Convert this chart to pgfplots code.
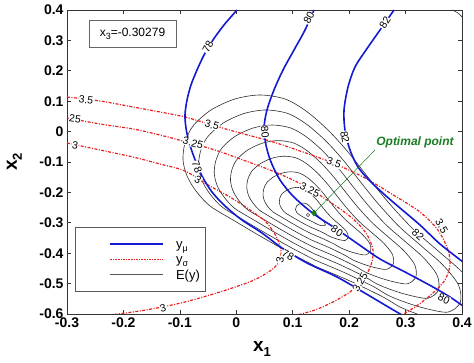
\documentclass[border=0pt]{standalone}
\usepackage{fontspec}
\setmainfont{Liberation Sans}
\usepackage{pgfplots}
\pgfplotsset{compat=1.18}
\definecolor{myblue}{RGB}{20,25,210}
\definecolor{myred}{RGB}{235,30,30}
\definecolor{mygray}{RGB}{45,45,45}
\definecolor{mygreen}{RGB}{25,125,35}
\tikzset{
 bl/.style={myblue, line width=1.6pt},
 rd/.style={myred, line width=1.2pt, dash pattern=on 3pt off 1.5pt on 1pt off 1.5pt},
 bk/.style={mygray, line width=0.6pt},
 clab/.style={font=\fontsize{10.5}{11}\selectfont, fill=white, inner sep=0.4pt},
}
\newcommand{\lstrut}{\rule[-4pt]{0pt}{14pt}}
\begin{document}
\begin{tikzpicture}
\useasboundingbox (-67pt,-49pt) rectangle (407pt,314pt);
\begin{axis}[
 at={(0pt,0pt)}, anchor=south west,
 scale only axis, width=395pt, height=304pt,
 xmin=-0.3, xmax=0.4, ymin=-0.6, ymax=0.4,
 xtick={-0.3,-0.2,-0.1,0,0.1,0.2,0.3,0.4},
 xticklabels={-0.3,-0.2,-0.1,0,0.1,0.2,0.3,0.4},
 ytick={-0.6,-0.5,-0.4,-0.3,-0.2,-0.1,0,0.1,0.2,0.3,0.4},
 yticklabels={-0.6,-0.5,-0.4,-0.3,-0.2,-0.1,0,0.1,0.2,0.3,0.4},
 tick align=inside, major tick length=4pt,
 tick style={black!80, line width=0.6pt},
 axis line style={black!80, line width=0.8pt},
 ticklabel style={font=\fontsize{14}{16}\selectfont\bfseries},
 xlabel={\fontsize{19}{20}\selectfont\bfseries x\raisebox{-5pt}{\fontsize{13}{14}\selectfont 1}},
 ylabel={\fontsize{19}{20}\selectfont\bfseries x\raisebox{-5pt}{\fontsize{13}{14}\selectfont 2}},
 every axis x label/.style={at={(axis description cs:0.4937,-0.125)}, anchor=base},
 every axis y label/.style={at={(axis description cs:-0.1266,0.5)}, anchor=base, rotate=90},
 legend style={at={(0.0203,0.0724)}, anchor=south west, draw=black!65, line width=0.8pt, fill=white,
   font=\fontsize{13}{15}\selectfont, inner xsep=4pt, inner ysep=9pt, column sep=10pt},
 legend cell align=left,
 legend image code/.code={\path (-30pt,0pt); \draw[#1] (0pt,0pt) -- (53pt,0pt);},
]
% ---------- E(y) contours ----------
\addplot[bk, smooth, forget plot] coordinates {(0.1430,-0.4454)(0.0952,-0.3993)(0.0420,-0.3434)(-0.0058,-0.2907)(-0.0466,-0.2447)(-0.0714,-0.1954)(-0.0873,-0.1460)(-0.0944,-0.0934)(-0.0909,-0.0375)(-0.0767,0.0185)(-0.0448,0.0711)(-0.0023,0.1073)(0.0420,0.1204)(0.0863,0.1073)(0.1236,0.0678)(0.1625,0.0053)(0.1980,-0.0671)(0.2317,-0.1460)(0.2689,-0.2315)(0.3114,-0.3171)(0.3557,-0.3894)(0.4000,-0.4618)(0.4319,-0.5375)(0.4354,-0.6033)(0.4106,-0.6394)(0.3663,-0.6263)(0.3256,-0.6033)(0.2901,-0.5769)(0.2600,-0.5440)(0.2015,-0.4914)(0.1430,-0.4454)};
\addplot[bk, smooth, forget plot] coordinates {(0.1410,-0.4240)(0.0992,-0.3837)(0.0526,-0.3348)(0.0108,-0.2887)(-0.0249,-0.2484)(-0.0466,-0.2053)(-0.0605,-0.1620)(-0.0667,-0.1160)(-0.0637,-0.0671)(-0.0512,-0.0181)(-0.0233,0.0279)(0.0139,0.0596)(0.0526,0.0711)(0.0914,0.0596)(0.1240,0.0250)(0.1581,-0.0296)(0.1891,-0.0930)(0.2186,-0.1620)(0.2512,-0.2368)(0.2884,-0.3118)(0.3271,-0.3750)(0.3659,-0.4384)(0.3938,-0.5046)(0.3969,-0.5622)(0.3752,-0.5938)(0.3364,-0.5823)(0.3008,-0.5622)(0.2697,-0.5391)(0.2434,-0.5103)(0.1922,-0.4643)(0.1410,-0.4240)};
\addplot[bk, smooth, forget plot] coordinates {(0.1390,-0.4026)(0.1032,-0.3681)(0.0633,-0.3261)(0.0274,-0.2866)(-0.0032,-0.2521)(-0.0218,-0.2151)(-0.0337,-0.1781)(-0.0390,-0.1386)(-0.0364,-0.0967)(-0.0258,-0.0547)(-0.0018,-0.0152)(0.0300,0.0119)(0.0633,0.0217)(0.0965,0.0119)(0.1245,-0.0177)(0.1537,-0.0646)(0.1803,-0.1189)(0.2056,-0.1781)(0.2335,-0.2422)(0.2653,-0.3064)(0.2986,-0.3606)(0.3318,-0.4149)(0.3557,-0.4717)(0.3583,-0.5211)(0.3397,-0.5481)(0.3065,-0.5383)(0.2760,-0.5211)(0.2494,-0.5013)(0.2268,-0.4766)(0.1829,-0.4371)(0.1390,-0.4026)};
\addplot[bk, smooth, forget plot] coordinates {(0.1370,-0.3804)(0.1073,-0.3518)(0.0743,-0.3171)(0.0447,-0.2845)(0.0194,-0.2559)(0.0040,-0.2254)(-0.0058,-0.1948)(-0.0102,-0.1621)(-0.0081,-0.1275)(0.0007,-0.0928)(0.0205,-0.0602)(0.0469,-0.0377)(0.0743,-0.0296)(0.1018,-0.0377)(0.1249,-0.0622)(0.1490,-0.1009)(0.1711,-0.1458)(0.1920,-0.1948)(0.2150,-0.2478)(0.2414,-0.3008)(0.2688,-0.3457)(0.2963,-0.3906)(0.3161,-0.4375)(0.3182,-0.4783)(0.3029,-0.5007)(0.2754,-0.4925)(0.2502,-0.4783)(0.2282,-0.4619)(0.2095,-0.4415)(0.1732,-0.4089)(0.1370,-0.3804)};
\addplot[bk, smooth, forget plot] coordinates {(0.1349,-0.3581)(0.1115,-0.3356)(0.0854,-0.3082)(0.0620,-0.2823)(0.0420,-0.2598)(0.0298,-0.2356)(0.0220,-0.2114)(0.0186,-0.1857)(0.0203,-0.1583)(0.0272,-0.1308)(0.0429,-0.1051)(0.0637,-0.0873)(0.0854,-0.0809)(0.1071,-0.0873)(0.1254,-0.1067)(0.1444,-0.1373)(0.1618,-0.1728)(0.1784,-0.2114)(0.1966,-0.2533)(0.2174,-0.2953)(0.2391,-0.3307)(0.2608,-0.3662)(0.2765,-0.4033)(0.2782,-0.4355)(0.2660,-0.4532)(0.2443,-0.4468)(0.2244,-0.4355)(0.2070,-0.4226)(0.1922,-0.4065)(0.1636,-0.3807)(0.1349,-0.3581)};
\addplot[bk, smooth, forget plot] coordinates {(0.1328,-0.3359)(0.1156,-0.3193)(0.0965,-0.2992)(0.0793,-0.2802)(0.0646,-0.2636)(0.0556,-0.2459)(0.0499,-0.2281)(0.0474,-0.2092)(0.0486,-0.1891)(0.0537,-0.1689)(0.0652,-0.1500)(0.0805,-0.1369)(0.0965,-0.1322)(0.1124,-0.1369)(0.1258,-0.1511)(0.1398,-0.1736)(0.1526,-0.1997)(0.1648,-0.2281)(0.1781,-0.2589)(0.1934,-0.2897)(0.2094,-0.3157)(0.2253,-0.3418)(0.2368,-0.3691)(0.2381,-0.3927)(0.2292,-0.4057)(0.2132,-0.4010)(0.1986,-0.3927)(0.1858,-0.3832)(0.1749,-0.3714)(0.1539,-0.3525)(0.1328,-0.3359)};
\addplot[bk, smooth, forget plot] coordinates {(0.1308,-0.3137)(0.1198,-0.3031)(0.1075,-0.2902)(0.0965,-0.2781)(0.0871,-0.2675)(0.0814,-0.2562)(0.0778,-0.2448)(0.0762,-0.2327)(0.0770,-0.2198)(0.0802,-0.2070)(0.0876,-0.1949)(0.0973,-0.1865)(0.1075,-0.1835)(0.1177,-0.1865)(0.1263,-0.1956)(0.1352,-0.2100)(0.1434,-0.2266)(0.1512,-0.2448)(0.1597,-0.2645)(0.1695,-0.2841)(0.1797,-0.3008)(0.1899,-0.3174)(0.1972,-0.3348)(0.1980,-0.3500)(0.1923,-0.3583)(0.1821,-0.3553)(0.1728,-0.3500)(0.1646,-0.3439)(0.1577,-0.3363)(0.1442,-0.3242)(0.1308,-0.3137)};
\addplot[bk, smooth, forget plot] coordinates {(0.1239,-0.2868)(0.1138,-0.2759)(0.1072,-0.2664)(0.1049,-0.2562)(0.1067,-0.2450)(0.1142,-0.2361)(0.1230,-0.2361)(0.1306,-0.2463)(0.1376,-0.2615)(0.1455,-0.2786)(0.1544,-0.2931)(0.1579,-0.3072)(0.1510,-0.3095)(0.1434,-0.3046)(0.1345,-0.2960)(0.1239,-0.2868)};
\addplot[bk, smooth, forget plot] coordinates {(0.3823,0.4000)(0.3929,0.3901)(0.4018,0.3737)};
% ---------- y_sigma contours ----------
\addplot[rd, smooth, forget plot] coordinates {(-0.3,0.1138)(-0.2415,0.1007)(-0.1830,0.0809)(-0.1352,0.0645)(-0.0909,0.0480)(-0.0430,0.0217)(0.0066,-0.0046)(0.0597,-0.0309)(0.1129,-0.0638)(0.1714,-0.1033)(0.2281,-0.1526)(0.2812,-0.2118)(0.3255,-0.2645)(0.3574,-0.3237)(0.3752,-0.3895)(0.3787,-0.4388)(0.3699,-0.4882)(0.3486,-0.5309)(0.3220,-0.5704)(0.2937,-0.6033)};
\addplot[rd, smooth, forget plot] coordinates {(-0.3,0.0447)(-0.2415,0.0250)(-0.1830,0.0086)(-0.1352,-0.0112)(-0.0820,-0.0375)(-0.0377,-0.0605)(0.0119,-0.0934)(0.0597,-0.1263)(0.1005,-0.1592)(0.1306,-0.1888)(0.1714,-0.2382)(0.2050,-0.2842)(0.2299,-0.3336)(0.2423,-0.3895)(0.2387,-0.4388)(0.2245,-0.4882)(0.2015,-0.5276)(0.1714,-0.5605)(0.1395,-0.5869)(0.1076,-0.6033)};
\addplot[rd, smooth, forget plot] coordinates {(-0.3,-0.0375)(-0.2415,-0.0605)(-0.1830,-0.0836)(-0.1352,-0.1066)(-0.0909,-0.1296)(-0.0501,-0.1757)(-0.0112,-0.2151)(0.0243,-0.2579)(0.0526,-0.2974)(0.0704,-0.3434)(0.0792,-0.3895)(0.0757,-0.4289)(0.0597,-0.4586)(0.0278,-0.4914)(-0.0289,-0.5276)(-0.0909,-0.5605)(-0.1405,-0.5803)(-0.1830,-0.5934)(-0.2238,-0.6033)};
% ---------- y_mu contours ----------
\addplot[bl, smooth, forget plot] coordinates {(0.0013,0.4)(-0.0218,0.3507)(-0.0413,0.3013)(-0.0572,0.2520)(-0.0696,0.2026)(-0.0803,0.1533)(-0.0873,0.1039)(-0.0909,0.0546)(-0.0891,0.0118)(-0.0838,-0.0342)(-0.0749,-0.0836)(-0.0608,-0.1461)(-0.0430,-0.1987)(-0.0200,-0.2447)(0.0101,-0.2908)(0.0456,-0.3336)(0.0810,-0.3829)(0.1253,-0.4322)(0.1785,-0.4783)(0.2245,-0.5276)(0.2724,-0.5803)(0.2937,-0.6033)};
\addplot[bl, smooth, forget plot] coordinates {(0.1377,0.4)(0.1218,0.3342)(0.1023,0.2684)(0.0828,0.2026)(0.0668,0.1368)(0.0544,0.0711)(0.0491,0.0118)(0.0526,-0.0441)(0.0615,-0.1000)(0.0775,-0.1592)(0.0987,-0.2086)(0.1218,-0.2480)(0.1448,-0.2809)(0.1749,-0.3171)(0.2157,-0.3697)(0.2547,-0.4191)(0.2990,-0.4618)(0.3486,-0.5112)(0.3787,-0.5441)(0.4018,-0.5737)};
\addplot[bl, smooth, forget plot] coordinates {(0.2795,0.4)(0.2547,0.3342)(0.2299,0.2684)(0.2104,0.2125)(0.1980,0.1467)(0.1909,0.0711)(0.1926,0.0053)(0.2015,-0.0605)(0.2157,-0.1164)(0.2369,-0.1625)(0.2635,-0.2086)(0.2901,-0.2513)(0.3255,-0.3072)(0.3610,-0.3697)(0.4018,-0.4289)};
% ---------- optimal point ----------
\addplot[mygreen, line width=0.5pt, forget plot] coordinates {(0.2458,-0.0605)(0.1377,-0.2678)};
\addplot[only marks, mark=o, mark size=1.6pt, black, mark options={line width=0.4pt}, forget plot] coordinates {(0.1271,-0.2743)};
\addplot[only marks, mark=diamond*, mark size=3.2pt, mygreen, forget plot] coordinates {(0.1377,-0.2678)};
% ---------- contour labels ----------
\node[clab, rotate=62] at (axis cs:-0.0501,0.2783) {78};
\node[clab, rotate=-70] at (axis cs:-0.0696,-0.1164) {78};
\node[clab, rotate=-28] at (axis cs:0.0916,-0.4059) {78};
\node[clab, rotate=62] at (axis cs:0.1288,0.3737) {80};
\node[clab, rotate=-85] at (axis cs:0.0509,-0.0013) {80};
\node[clab, rotate=-33] at (axis cs:0.1785,-0.3270) {80};
\node[clab, rotate=-25] at (axis cs:0.3681,-0.5507) {80};
\node[clab, rotate=58] at (axis cs:0.2635,0.3572) {82};
\node[clab, rotate=-78] at (axis cs:0.1926,-0.0178) {82};
\node[clab, rotate=-42] at (axis cs:0.3220,-0.3380) {82};
\node[clab, rotate=-8] at (axis cs:-0.2663,0.1039) {3.5};
\node[clab, rotate=-15] at (axis cs:-0.0430,0.0217) {3.5};
\node[clab, rotate=-20] at (axis cs:0.1731,-0.1033) {3.5};
\node[clab, rotate=-60] at (axis cs:0.3640,-0.3120) {3.5};
\node[clab, rotate=-8] at (axis cs:-0.2858,0.0414) {25};
\node[clab, rotate=-15] at (axis cs:-0.0767,-0.0375) {3.25};
\node[clab, rotate=-25] at (axis cs:0.1306,-0.1921) {3.25};
\node[clab, rotate=60] at (axis cs:0.2192,-0.4947) {3.25};
\node[clab, rotate=-10] at (axis cs:-0.2858,-0.0441) {3};
\node[clab, rotate=-30] at (axis cs:-0.0679,-0.1592) {3};
\node[clab, rotate=80] at (axis cs:0.0775,-0.4224) {3};
\node[clab, rotate=15] at (axis cs:-0.1299,-0.5803) {3};
% ---------- annotations ----------
\node[draw=black!60, fill=white, line width=0.7pt, minimum width=87pt, minimum height=27pt,
  font=\fontsize{12}{14}\selectfont] at (rel axis cs:0.1658,0.9227)
  {x\raisebox{-3pt}{\fontsize{9}{10}\selectfont 3}=-0.30279};
\node[font=\fontsize{12}{14}\selectfont\bfseries\itshape, text=mygreen] at (rel axis cs:0.881,0.566) {Optimal point};
% ---------- legend ----------
\addlegendimage{bl}
\addlegendentry{\lstrut y\raisebox{-3pt}{\fontsize{9}{10}\selectfont μ}}
\addlegendimage{myred, line width=1.4pt, dash pattern=on 1.6pt off 1pt}
\addlegendentry{\lstrut y\raisebox{-3pt}{\fontsize{9}{10}\selectfont σ}}
\addlegendimage{black!65, line width=1pt}
\addlegendentry{\lstrut E(y)}
\end{axis}
\end{tikzpicture}
\end{document}
